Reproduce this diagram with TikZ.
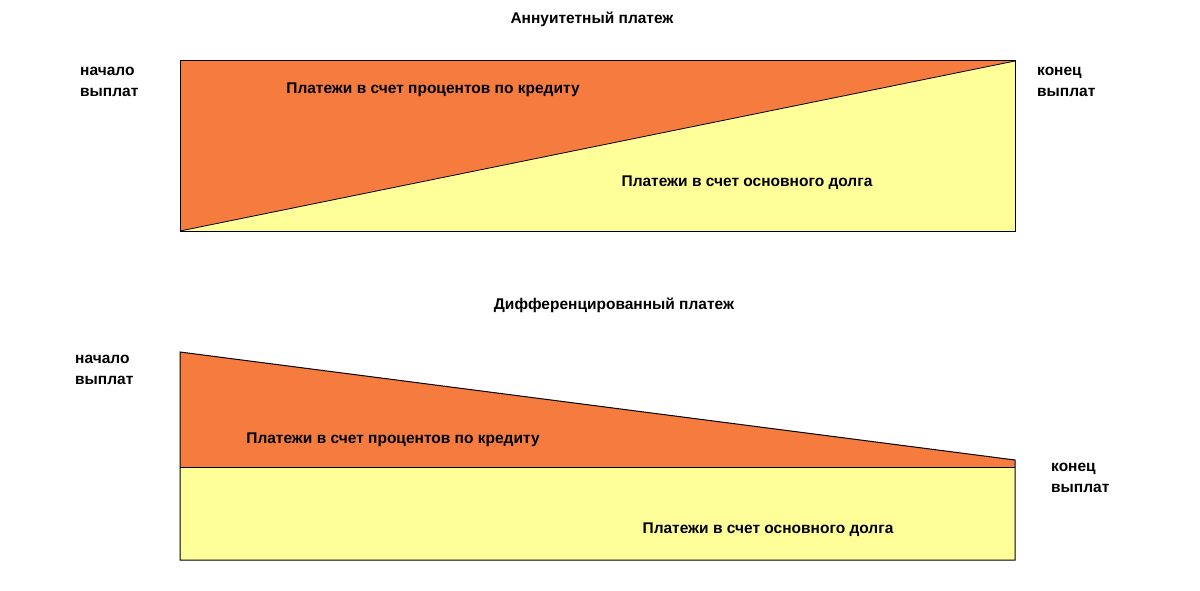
\documentclass[tikz,border=0pt]{standalone}
\usepackage{fontspec}
\setmainfont{Liberation Sans}
\begin{document}
\begin{tikzpicture}[x=1pt,y=-1pt,
 lbl/.style={font=\bfseries\fontsize{15.5}{21}\selectfont,inner sep=0pt},
 side/.style={lbl,align=left},
 edge/.style={draw=black,line width=1pt}]
\definecolor{org}{HTML}{F57C3E}
\definecolor{yel}{HTML}{FFFF99}
\useasboundingbox[fill=white] (0,0) rectangle (1200,591);
% top
\coordinate (a1) at (180,61); \coordinate (a2) at (1015,61);
\coordinate (a3) at (1015,231); \coordinate (a4) at (180,231);
\fill[yel] (a1) rectangle (a3);
\fill[org] (a1) -- (a2) -- (a4) -- cycle;
\draw[edge] (a1) rectangle (a3);
\draw[line width=0.8pt] (a4) -- (a2);
\node[lbl] (t1) at (592,19) {Аннуитетный платеж};
\node[lbl] (p1) at (433,90) {Платежи в счет процентов по кредиту};
\node[lbl] (d1) at (747,183) {Платежи в счет основного долга};
\node[side,anchor=west] (s1) at (80,82) {начало\\выплат};
\node[side,anchor=west] (e1) at (1037,82) {конец\\выплат};
% bottom
\coordinate (b1) at (180,352); \coordinate (b2) at (1015,460);
\coordinate (b3) at (1015,467); \coordinate (b4) at (180,467);
\coordinate (b5) at (1015,560); \coordinate (b6) at (180,560);
\fill[org] (b1) -- (b2) -- (b3) -- (b4) -- cycle;
\fill[yel] (b4) rectangle (b5);
\draw[edge] (b1) -- (b2) -- (b5) -- (b6) -- cycle;
\draw[line width=0.8pt] (b4) -- (b3);
\node[lbl] (t2) at (614,305) {Дифференцированный платеж};
\node[lbl] (p2) at (393,440) {Платежи в счет процентов по кредиту};
\node[lbl] (d2) at (768,530) {Платежи в счет основного долга};
\node[side,anchor=west] (s2) at (75,370) {начало\\выплат};
\node[side,anchor=west] (e2) at (1051,478) {конец\\выплат};
\end{tikzpicture}
\end{document}
